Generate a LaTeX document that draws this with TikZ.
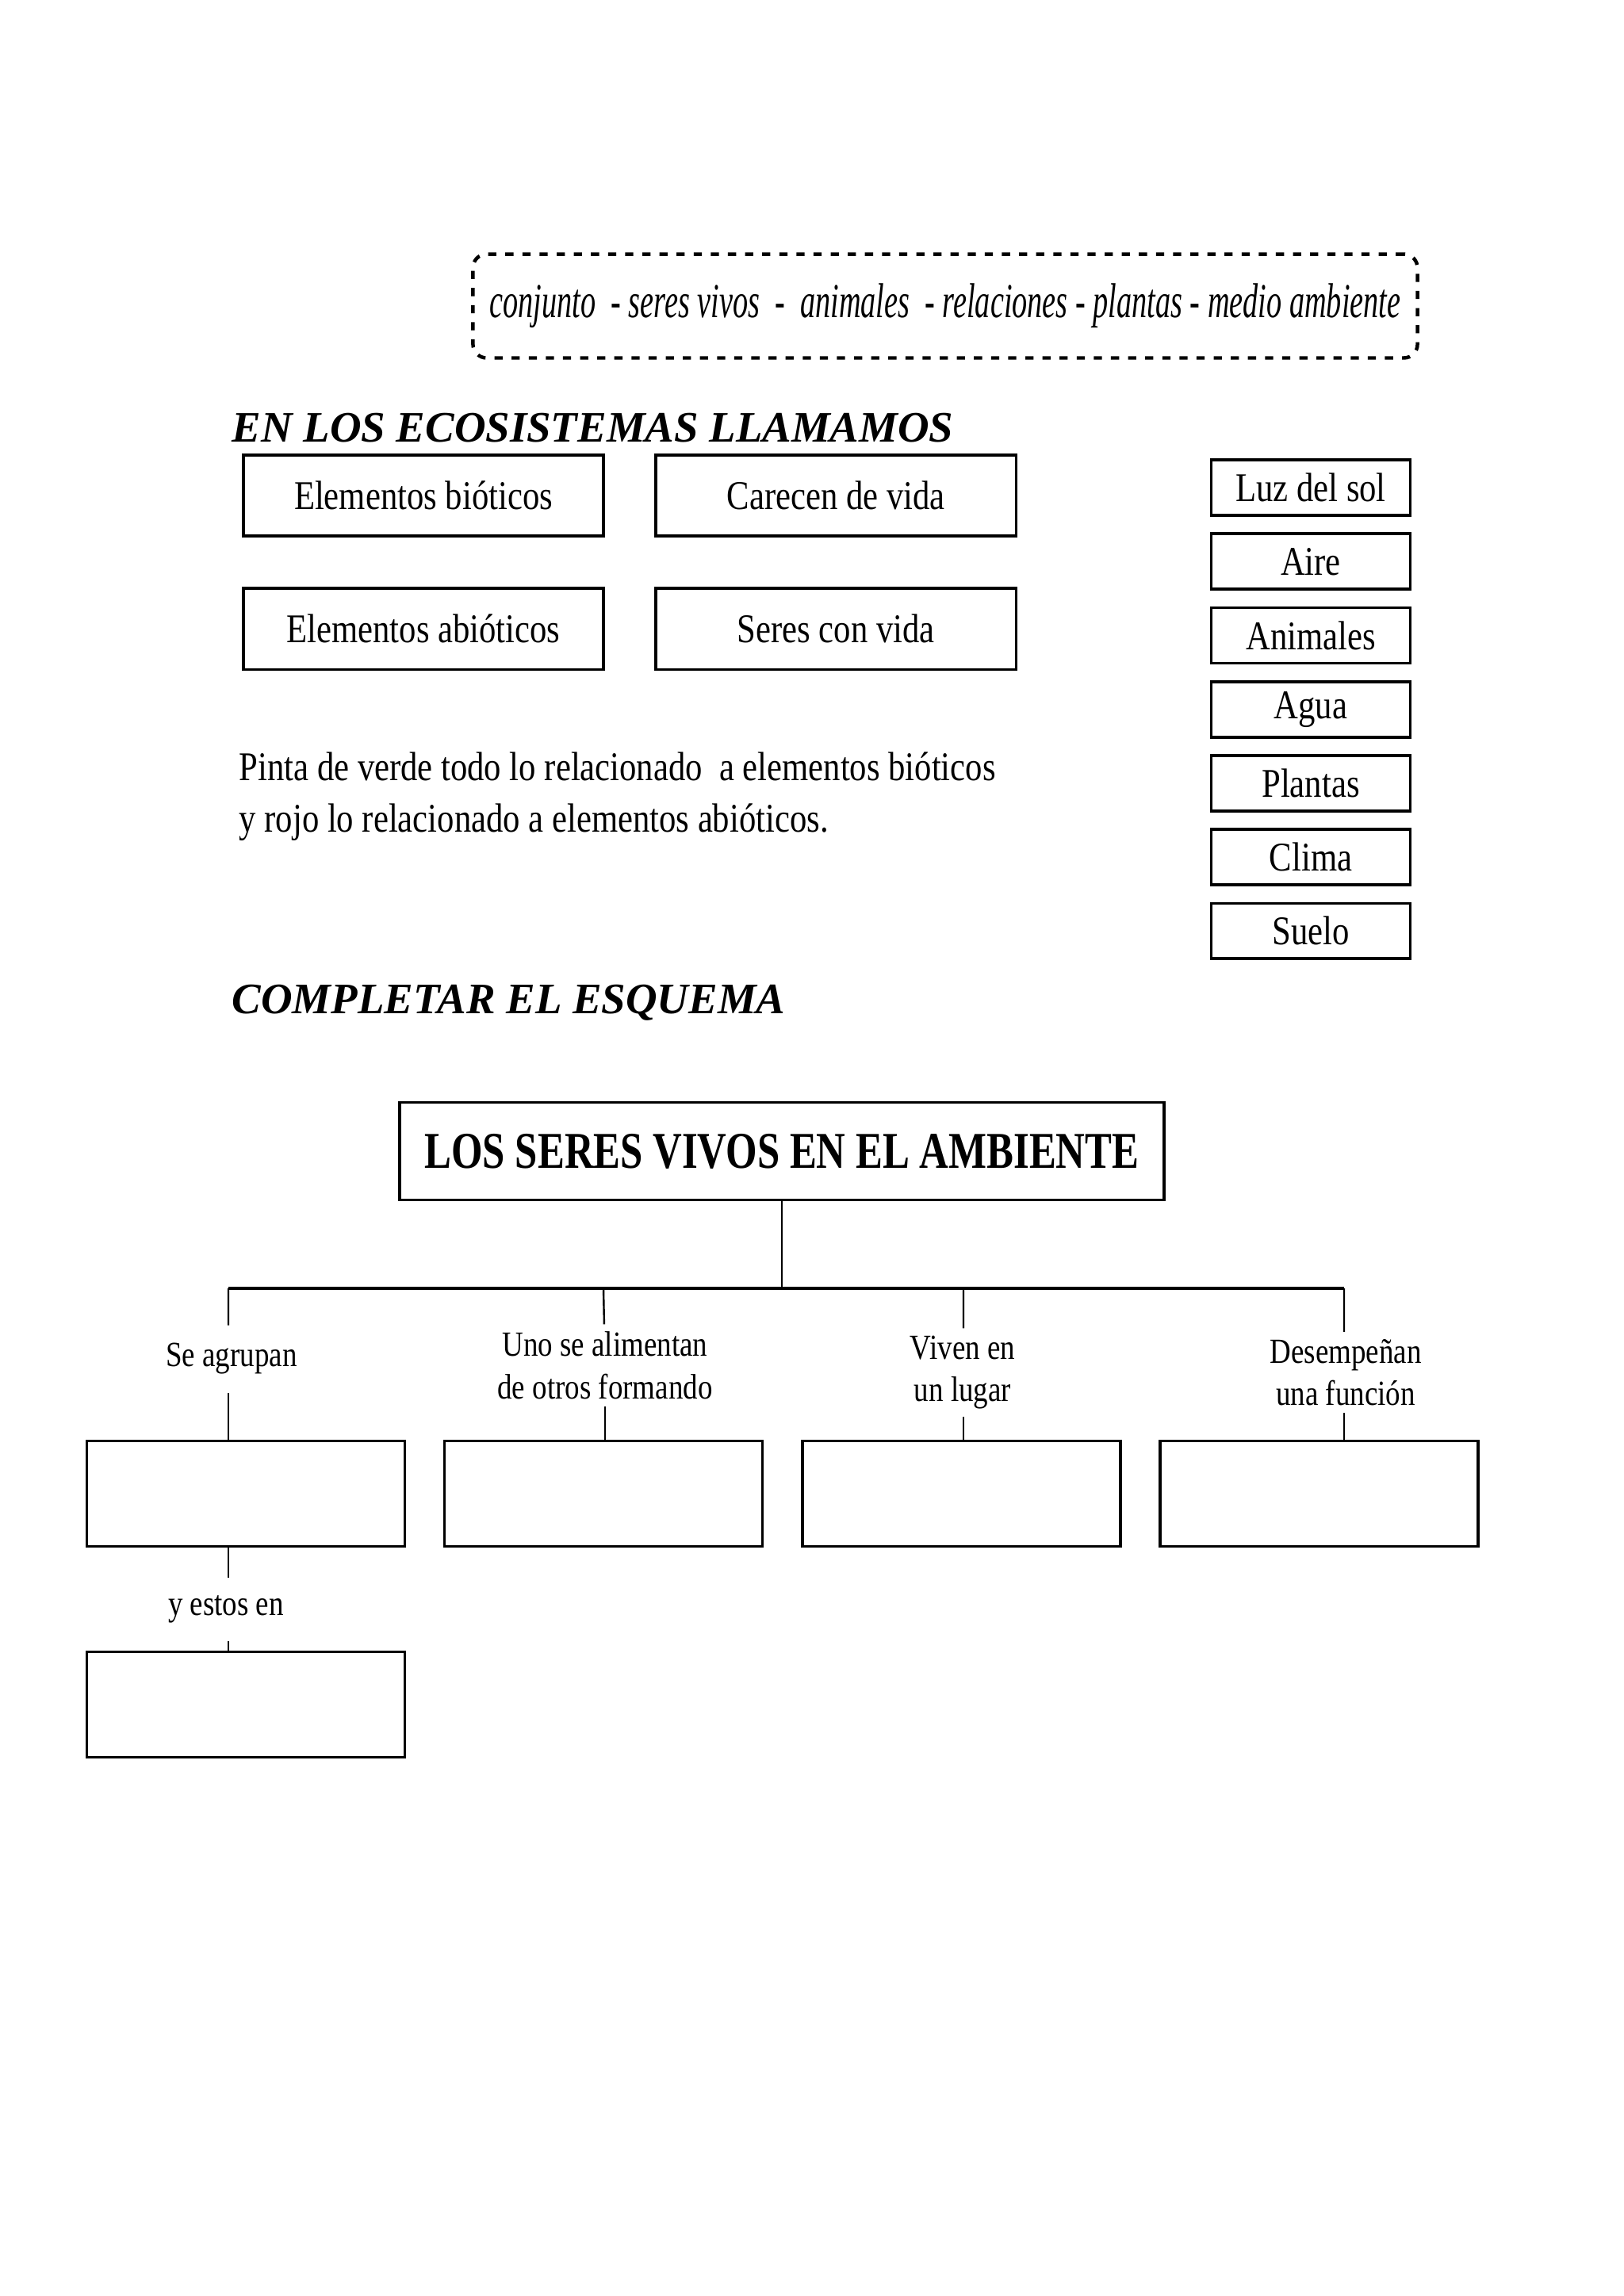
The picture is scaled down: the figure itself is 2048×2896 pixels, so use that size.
\documentclass[tikz,border=0pt]{standalone}
\usepackage{fontspec}
\setmainfont{Liberation Serif}
\newfontfamily\angosta[FakeStretch=0.83]{Liberation Serif}
\newfontfamily\angostait[FakeStretch=0.62]{Liberation Serif}
\newfontfamily\angostabf[FakeStretch=0.78]{Liberation Serif}
\usetikzlibrary{positioning}

\tikzset{
  caja/.style={draw, line width=1.1pt, inner sep=0pt},
  par/.style={caja, minimum width=132.5pt, minimum height=29.8pt,
    font=\angosta\fontsize{15}{18}\selectfont},
  elem/.style={caja, minimum width=73.2pt, minimum height=20.4pt,
    font=\angosta\fontsize{15}{18}\selectfont},
  vacia/.style={caja, minimum width=117pt, minimum height=38.8pt},
  titulo/.style={inner sep=0pt, font=\bfseries\itshape\fontsize{16}{19}\selectfont},
  rotulo/.style={align=center, inner xsep=0pt, inner ysep=2.5pt,
    font=\angosta\fontsize{13}{15.6}\selectfont},
  linea/.style={line width=0.7pt}
}

\begin{document}
\begin{tikzpicture}[x=0.29175pt, y=-0.29175pt]
\useasboundingbox (0,0) rectangle (2048,2896);

% banco de palabras
\node[draw, rounded corners=5pt, line width=1.3pt, dash pattern=on 3pt off 3.3pt,
  minimum width=347.5pt, minimum height=38.2pt,
  font=\angostait\itshape\fontsize{18}{21}\selectfont] (banco) at (1192,386)
  {conjunto\ \ - seres vivos\ \ -\ \ animales\ \ - relaciones - plantas - medio ambiente};

\node[titulo, anchor=base west] (llamamos) at (292,557) {EN LOS ECOSISTEMAS LLAMAMOS};

% definiciones
\begin{scope}[node distance=18.2pt]
\node[par] (bio) at (534,625) {Elementos bióticos};
\node[par, right=of bio] (carecen) {Carecen de vida};
\node[par, below=of bio] (abio) {Elementos abióticos};
\node[par, right=of abio] (vida) {Seres con vida};
\end{scope}

% elementos para pintar
\node[elem] (luz) at (1653,615) {Luz del sol};
\node[elem, below=5.7pt of luz] (aire) {Aire};
\node[elem, below=5.7pt of aire] (animales) {Animales};
\node[elem, below=5.7pt of animales] (agua) {Agua};
\node[elem, below=5.7pt of agua] (plantas) {Plantas};
\node[elem, below=5.7pt of plantas] (clima) {Clima};
\node[elem, below=5.7pt of clima] (suelo) {Suelo};

\node[anchor=north west, align=left, inner sep=0pt,
  font=\angosta\fontsize{15}{19}\selectfont] (consigna) at (301,948)
  {Pinta de verde todo lo relacionado\ \ a elementos bióticos\\
   y rojo lo relacionado a elementos abióticos.};

\node[titulo, anchor=base west] (completar) at (292,1278) {COMPLETAR EL ESQUEMA};

% esquema
\node[caja, minimum width=281.2pt, minimum height=35.9pt,
  font=\angostabf\bfseries\fontsize{19}{22}\selectfont] (seres) at (986,1452)
  {LOS SERES VIVOS EN EL AMBIENTE};

\coordinate (r1) at (288,1625);
\coordinate (r2) at (761,1625);
\coordinate (r3) at (1215,1625);
\coordinate (r4) at (1695,1625);

\node[rotulo, inner ysep=6.5pt] (agrupan) at (292,1714) {Se agrupan};
\node[rotulo] (alimentan) at (763,1722) {Uno se alimentan\\de otros formando};
\node[rotulo] (viven) at (1214,1731) {Viven en\\un lugar};
\node[rotulo] (funcion) at (1697,1731) {Desempeñan\\una función};

\node[vacia] (g1) at (310,1884) {};
\node[vacia, right=13.5pt of g1] (g2) {};
\node[vacia, right=13.5pt of g2] (g3) {};
\node[vacia, right=13.5pt of g3] (g4) {};

\node[rotulo, inner ysep=6.5pt] (estos) at (285,2030) {y estos en};
\node[vacia] (g5) at (310,2150) {};

\draw[linea] (seres) -- (seres |- r1);
\draw[line width=1.4pt] (r1) -- (r4);
\draw[linea] (r1) -- (r1 |- agrupan.north) (r2) -- (alimentan) (r3) -- (r3 |- viven.north) (r4) -- (r4 |- funcion.north);
\draw[linea] (r1 |- agrupan.south) -- (r1 |- g1.north);
\draw[linea] (alimentan.south) -- (alimentan.south |- g2.north);
\draw[linea] (r3 |- viven.south) -- (r3 |- g3.north);
\draw[linea] (r4 |- funcion.south) -- (r4 |- g4.north);
\draw[linea] (g1.south -| r1) -- (r1 |- estos.north);
\draw[linea] (r1 |- estos.south) -- (r1 |- g5.north);
\end{tikzpicture}
\end{document}
